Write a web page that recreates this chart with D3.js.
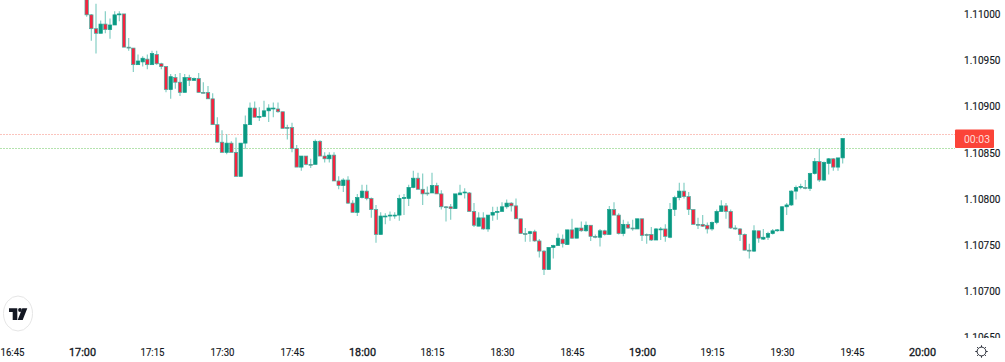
<!DOCTYPE html>
<html lang="en">

<head>
    <meta charset="UTF-8">
    <title>1 minute candles</title>
    <script src="https://cdn.jsdelivr.net/npm/d3@7"></script>
    <style>
        html, body { margin: 0; padding: 0; background: #fff; overflow: hidden; }
        svg { display: block; }
        text { font-family: Roboto, "Liberation Sans", sans-serif; fill: #131722; }
        .tick line, .domain { display: none; }
    </style>
</head>

<body>
    <script>
        // prices are in points above 1.10000, first candle is 17:01, one per minute
        var opens = [
            1021, 998, 983, 978, 988, 982, 987, 998, 999, 963,
            962, 944, 947, 950, 944, 955, 945, 942, 917, 930,
            925, 914, 930, 927, 929, 914, 914, 907, 879, 860,
            849, 859, 849, 823, 859, 879, 897, 887, 888, 894,
            896, 896, 893, 876, 876, 853, 833, 845, 836, 836,
            861, 845, 842, 846, 818, 813, 819, 794, 784, 800,
            807, 799, 787, 760, 779, 780, 780, 781, 799, 799,
            811, 821, 809, 805, 805, 813, 804, 790, 790, 788,
            803, 805, 805, 785, 769, 778, 766, 781, 784, 785,
            790, 794, 791, 777, 761, 761, 763, 753, 742, 722,
            746, 748, 755, 749, 765, 756, 767, 764, 770, 758,
            757, 764, 760, 787, 781, 761, 771, 767, 766, 777,
            760, 760, 754, 765, 766, 757, 787, 800, 807, 801,
            787, 771, 771, 770, 766, 773, 785, 791, 785, 767,
            766, 760, 743, 742, 764, 755, 757, 761, 764, 764,
            790, 792, 807, 811, 811, 810, 826, 839, 819, 837,
            842, 833, 843
        ];
        var highs = [
            1023, 999, 1010, 992, 1002, 994, 1002, 1002, 999, 973,
            962, 955, 953, 955, 959, 959, 946, 942, 934, 934,
            935, 934, 933, 930, 935, 925, 921, 913, 887, 873,
            869, 861, 865, 859, 889, 903, 904, 898, 905, 901,
            903, 903, 893, 879, 881, 857, 845, 845, 842, 863,
            862, 849, 849, 849, 823, 821, 823, 797, 804, 814,
            814, 800, 792, 784, 783, 785, 784, 803, 804, 814,
            829, 827, 826, 812, 827, 816, 808, 791, 793, 804,
            814, 810, 806, 794, 784, 784, 781, 790, 790, 795,
            798, 795, 799, 777, 767, 764, 765, 755, 743, 746,
            749, 761, 760, 765, 777, 767, 774, 774, 770, 760,
            766, 765, 791, 795, 783, 776, 774, 776, 777, 777,
            761, 768, 767, 768, 771, 794, 802, 816, 816, 806,
            787, 778, 781, 773, 774, 787, 797, 794, 787, 770,
            767, 761, 750, 770, 764, 766, 763, 766, 766, 791,
            794, 808, 813, 815, 819, 827, 843, 853, 839, 843,
            843, 843, 864
        ];
        var lows = [
            996, 970, 956, 978, 978, 972, 987, 991, 963, 959,
            936, 944, 942, 939, 944, 944, 939, 914, 907, 918,
            910, 914, 921, 927, 914, 913, 907, 879, 860, 849,
            847, 849, 823, 823, 853, 879, 887, 883, 887, 882,
            887, 892, 875, 863, 849, 833, 829, 835, 832, 836,
            845, 838, 838, 818, 809, 806, 793, 784, 780, 799,
            797, 778, 751, 760, 771, 775, 777, 775, 781, 791,
            810, 809, 792, 802, 805, 804, 787, 774, 776, 788,
            803, 799, 785, 768, 769, 765, 763, 775, 776, 785,
            788, 785, 777, 761, 752, 752, 752, 735, 716, 722,
            734, 748, 746, 749, 755, 756, 763, 763, 753, 756,
            747, 759, 760, 781, 760, 758, 766, 764, 766, 753,
            750, 753, 754, 754, 752, 756, 780, 797, 799, 781,
            771, 766, 768, 761, 764, 771, 785, 777, 766, 765,
            753, 743, 734, 741, 751, 754, 754, 760, 763, 764,
            781, 791, 798, 809, 809, 807, 825, 817, 818, 825,
            829, 829, 837
        ];
        var closes = [
            998, 983, 978, 988, 982, 987, 998, 999, 963, 962,
            944, 948, 951, 944, 956, 945, 942, 917, 931, 925,
            914, 930, 927, 929, 914, 913, 907, 879, 860, 849,
            859, 849, 823, 859, 879, 897, 887, 888, 894, 897,
            897, 893, 875, 875, 853, 833, 845, 836, 835, 861,
            845, 842, 846, 818, 813, 819, 794, 784, 800, 807,
            799, 787, 760, 780, 780, 781, 781, 799, 800, 811,
            821, 809, 804, 804, 813, 804, 790, 789, 788, 804,
            805, 806, 785, 770, 778, 766, 781, 784, 785, 790,
            794, 791, 777, 761, 760, 763, 753, 742, 722, 746,
            748, 756, 750, 765, 756, 767, 764, 770, 758, 757,
            764, 760, 787, 781, 761, 771, 767, 766, 777, 759,
            759, 754, 766, 766, 758, 787, 800, 807, 801, 787,
            771, 770, 769, 766, 773, 785, 791, 785, 767, 766,
            760, 743, 742, 764, 756, 757, 761, 764, 765, 790,
            792, 807, 811, 812, 810, 826, 839, 819, 838, 842,
            833, 843, 864
        ];

        var priceTicks = [1.1065, 1.107, 1.1075, 1.108, 1.1085, 1.109, 1.1095, 1.11];
        var timeTicks = ["16:45", "17:00", "17:15", "17:30", "17:45", "18:00", "18:15", "18:30",
            "18:45", "19:00", "19:15", "19:30", "19:45", "20:00"];
        var askLine = 869, bidLine = 854;
        var countdown = "00:03";

        var width = 1005,
            height = 362,
            axisLeft = 955;

        var parseMinute = d3.timeParse("%H:%M"),
            fmtMinute = d3.timeFormat("%H:%M");
        var firstCandle = parseMinute("17:01");

        var x = d3.scaleTime()
            .domain([parseMinute("17:00"), parseMinute("20:00")])
            .range([82, 922]);
        var y = d3.scaleLinear()
            .domain([1.1065, 1.11])
            .range([336, 13]);

        function price(p) { return 1.1 + p / 100000; }

        var candles = opens.map(function (o, i) {
            return {
                t: d3.timeMinute.offset(firstCandle, i),
                o: price(o), h: price(highs[i]), l: price(lows[i]), c: price(closes[i])
            };
        });

        var svg = d3.select("body").append("svg")
            .attr("width", width)
            .attr("height", height);

        // price lines behind the candles, snapped to a pixel row
        [[askLine, "#fbc4bd"], [bidLine, "#b4e3ae"]].forEach(function (d) {
            var py = Math.round(y(price(d[0]))) + 0.5;
            svg.append("line")
                .attr("x1", 0).attr("x2", axisLeft)
                .attr("y1", py).attr("y2", py)
                .attr("stroke", d[1])
                .attr("stroke-width", 1)
                .attr("stroke-dasharray", "2 1");
        });

        var candle = svg.append("g").selectAll("g")
            .data(candles)
            .enter().append("g");

        candle.append("line")
            .attr("x1", function (d) { return x(d.t); })
            .attr("x2", function (d) { return x(d.t); })
            .attr("y1", function (d) { return y(d.h); })
            .attr("y2", function (d) { return y(d.l); })
            .attr("stroke", "#85cfc5")
            .attr("stroke-width", 1.2);

        candle.append("rect")
            .attr("x", function (d) { return x(d.t) - 1.7; })
            .attr("width", 3.4)
            .attr("y", function (d) { return y(Math.max(d.o, d.c)); })
            .attr("height", function (d) { return Math.max(0.6, Math.abs(y(d.o) - y(d.c))); })
            .attr("fill", function (d) { return d.c >= d.o ? "#089981" : "#f5233f"; })
            .attr("stroke", function (d) { return d.c >= d.o ? "#17a08d" : "#45b0a2"; })
            .attr("stroke-width", 0.7);

        var priceAxis = d3.axisRight(y)
            .tickValues(priceTicks)
            .tickSize(0)
            .tickPadding(0)
            .tickFormat(d3.format(".5f"));
        svg.append("g")
            .attr("transform", "translate(964,1)")
            .call(priceAxis)
            .selectAll("text")
            .style("font-size", "11.5px")
            .style("stroke", "#131722")
            .style("stroke-width", 0.15)
            .attr("textLength", 36.5)
            .attr("lengthAdjust", "spacingAndGlyphs");

        // white band under the plot cuts the lowest price label
        svg.append("rect")
            .attr("x", 0).attr("y", 338)
            .attr("width", width).attr("height", 24)
            .attr("fill", "#fff");

        var timeAxis = d3.axisBottom(x)
            .tickValues(timeTicks.map(parseMinute))
            .tickSize(0)
            .tickPadding(0)
            .tickFormat(fmtMinute);
        svg.append("g")
            .attr("transform", "translate(0,347.5)")
            .call(timeAxis)
            .selectAll("text")
            .style("font-size", "11.5px")
            .style("stroke", "#131722")
            .style("stroke-width", function (d) { return d.getMinutes() === 0 ? 0.35 : 0.15; })
            .attr("textLength", function (d) { return d.getMinutes() === 0 ? 27 : 24; })
            .attr("lengthAdjust", "spacingAndGlyphs");

        // countdown tag
        svg.append("rect")
            .attr("x", axisLeft).attr("y", 129.5)
            .attr("width", 39).attr("height", 18.5)
            .attr("rx", 1)
            .attr("fill", "#fb4438");
        svg.append("text")
            .attr("x", 977).attr("y", 143.3)
            .attr("text-anchor", "middle")
            .attr("textLength", 26)
            .attr("lengthAdjust", "spacingAndGlyphs")
            .style("font-size", "11.5px")
            .style("fill", "#ffdcd8")
            .text(countdown);

        // logo badge
        var logo = svg.append("g");
        logo.append("ellipse")
            .attr("cx", 18).attr("cy", 313.5)
            .attr("rx", 14.5).attr("ry", 17.5)
            .attr("fill", "#fff")
            .attr("stroke", "#e6e6e6");
        logo.append("path")
            .attr("d", "M9 308.3H17.3V320H12.7V312H9Z M22.3 308.3H27.3L22.7 320H17.7Z")
            .attr("fill", "#131722");
        logo.append("circle")
            .attr("cx", 20).attr("cy", 310)
            .attr("r", 1.9)
            .attr("fill", "#131722");

        // settings sun icon
        var sun = svg.append("g")
            .attr("transform", "translate(981.5,351.5)")
            .attr("fill", "none")
            .attr("stroke", "#2a2e39");
        sun.append("circle").attr("r", 4.4);
        d3.range(8).forEach(function (i) {
            var a = i * Math.PI / 4;
            sun.append("line")
                .attr("x1", 4.4 * Math.cos(a)).attr("y1", 4.4 * Math.sin(a))
                .attr("x2", 6.2 * Math.cos(a)).attr("y2", 6.2 * Math.sin(a));
        });
    </script>
</body>

</html>
